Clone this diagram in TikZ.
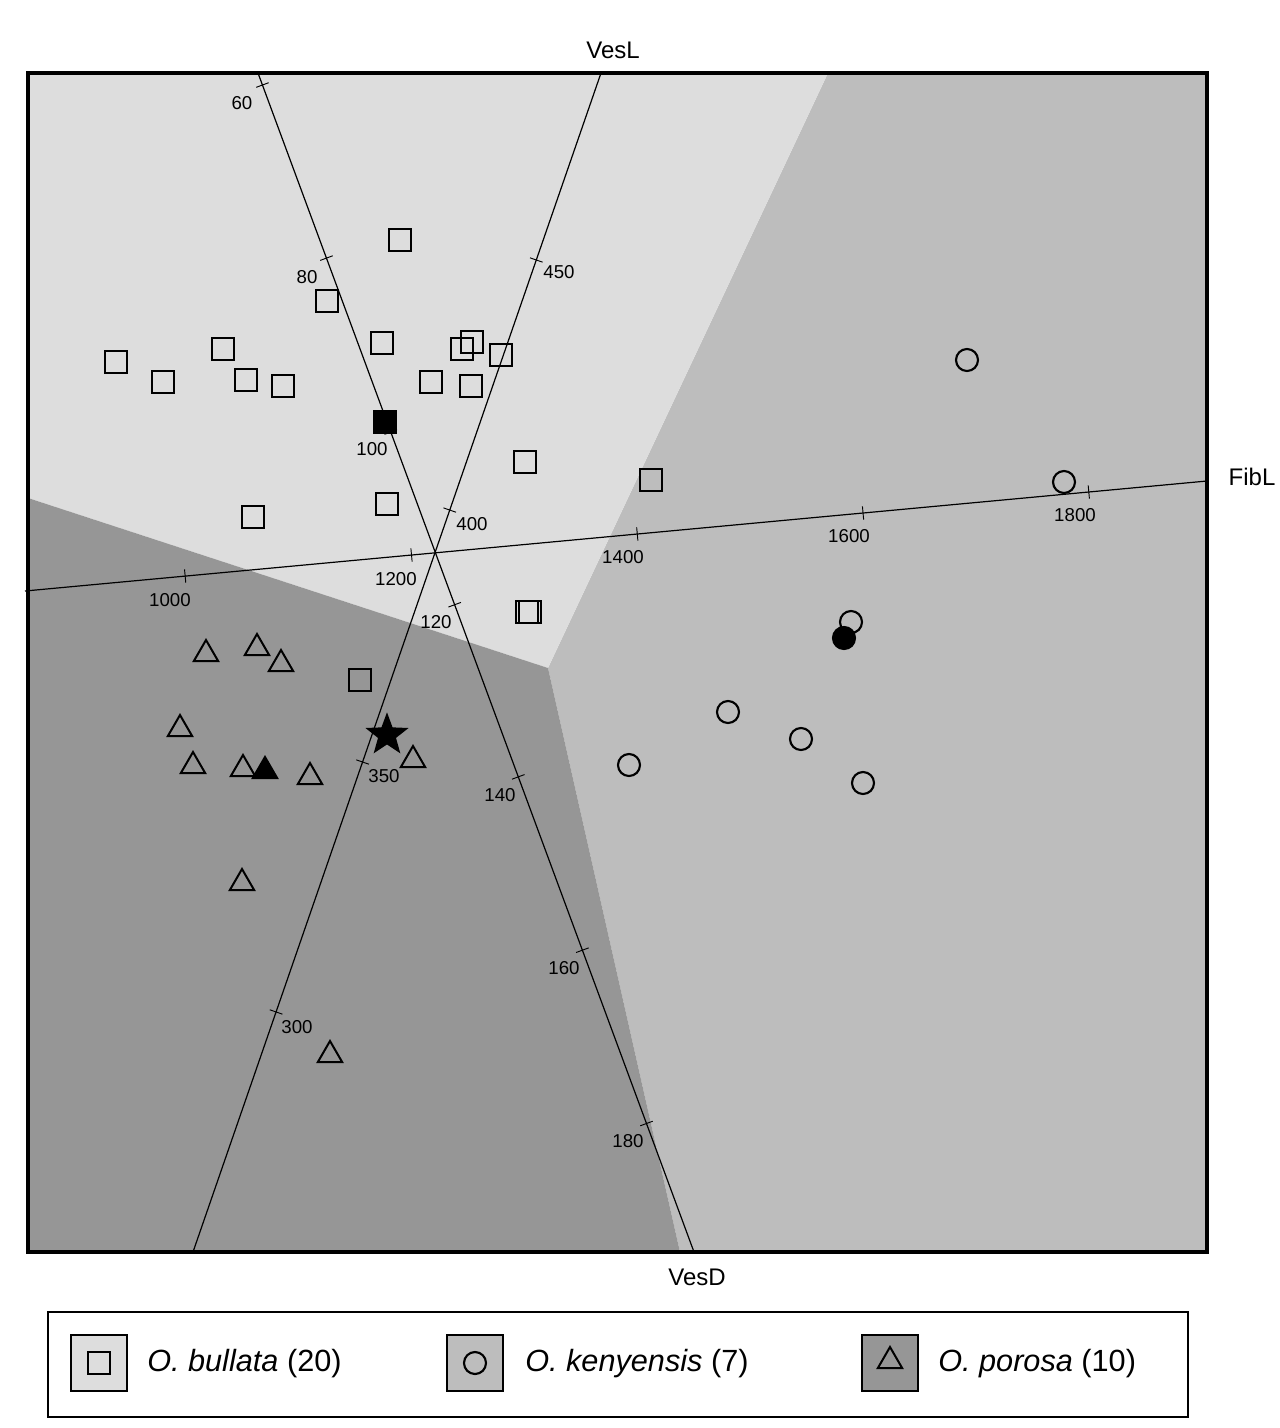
\documentclass[tikz,border=0pt]{standalone}
\usepackage{fontspec}
\setmainfont{Liberation Sans}
\usetikzlibrary{shapes.geometric}
\begin{document}
\begin{tikzpicture}[x=0.75pt,y=-0.75pt,
  sq/.style={draw,line width=1.6pt,minimum size=16pt,inner sep=0pt,fill=none},
  ci/.style={draw,circle,line width=1.6pt,minimum size=16.5pt,inner sep=0pt},
  tr/.style={draw,regular polygon,regular polygon sides=3,line width=1.5pt,minimum size=21pt,inner sep=0pt},
  tk/.style={sloped,draw,minimum width=0pt,minimum height=10pt,inner sep=0pt,line width=0.7pt},
  tl/.style={font=\fontsize{14}{14}\selectfont,inner sep=0pt},
  al/.style={font=\fontsize{18}{18}\selectfont,inner sep=0pt},
  lg/.style={font=\fontsize{23}{23}\selectfont,anchor=west,inner sep=0pt}]
\useasboundingbox (0,0) rectangle (1280,1428);
\fill[white] (0,0) rectangle (1280,1428);
% regions
\fill[gray!75!white,fill={rgb,255:red,189;green,189;blue,189}] (828,73) -- (1207,73) -- (1207,1252) -- (680,1252) -- (548,668) -- cycle;
\fill[fill={rgb,255:red,221;green,221;blue,221}] (28,73) -- (828,73) -- (548,668) -- (28,498) -- cycle;
\fill[fill={rgb,255:red,150;green,150;blue,150}] (28,498) -- (548,668) -- (680,1252) -- (28,1252) -- cycle;
\draw[line width=2.4pt] (28,73) rectangle (1207,1252);
% axes
\coordinate (d1) at (258,73); \coordinate (d2) at (694,1252);
\coordinate (l1) at (601,73); \coordinate (l2) at (193,1252);
\coordinate (f1) at (25,591); \coordinate (f2) at (1207,481);
\draw[line width=0.9pt] (d1) -- (d2)
  node[tk,pos=.0102]{} node[tk,pos=.157]{} node[tk,pos=.3045]{} node[tk,pos=.451]{}
  node[tk,pos=.597]{} node[tk,pos=.744]{} node[tk,pos=.891]{};
\draw[line width=0.9pt] (l1) -- (l2)
  node[tk,pos=.1586]{} node[tk,pos=.3707]{} node[tk,pos=.5844]{} node[tk,pos=.7964]{};
\draw[line width=0.9pt] (f1) -- (f2)
  node[tk,pos=.1355]{} node[tk,pos=.327]{} node[tk,pos=.518]{} node[tk,pos=.709]{} node[tk,pos=.9]{};
% tick labels
\node[tl] (t60) at (242,103) {60};
\node[tl] (t80) at (307,277) {80};
\node[tl] (t100) at (372,449) {100};
\node[tl] (t120) at (436,622) {120};
\node[tl] (t140) at (500,795) {140};
\node[tl] (t160) at (564,968) {160};
\node[tl] (t180) at (628,1141) {180};
\node[tl] (t450) at (559,272) {450};
\node[tl] (t400) at (472,524) {400};
\node[tl] (t350) at (384,776) {350};
\node[tl] (t300) at (297,1027) {300};
\node[tl] (t1000) at (170,600) {1000};
\node[tl] (t1200) at (396,579) {1200};
\node[tl] (t1400) at (623,557) {1400};
\node[tl] (t1600) at (849,536) {1600};
\node[tl] (t1800) at (1075,515) {1800};
\node[al] (vl) at (613,50) {VesL};
\node[al] (fl) at (1252,477) {FibL};
\node[al] (vd) at (697,1277) {VesD};
% squares
\foreach \p [count=\i] in {(400,240),(327,301),(116,362),(223,349),(163,382),(246,380),(283,386),(382,343),(462,349),(472,342),(501,355),(431,382),(471,386),(525,462),(651,480),(387,504),(253,517),(527,612),(530,612),(360,680)}
  \node[sq] (s\i) at \p {};
\node[sq,fill=black] (sm) at (385,422) {};
% circles
\foreach \p [count=\i] in {(967,360),(1064,482),(851,622),(728,712),(801,739),(629,765),(863,783)}
  \node[ci] (c\i) at \p {};
\node[ci,fill=black] (cm) at (844,638) {};
% triangles
\foreach \p [count=\i] in {(206,654),(257,648),(281,664),(180,729),(193,766),(243,769),(310,777),(413,760),(242,883),(330,1055)}
  \node[tr] (r\i) at \p {};
\node[tr,fill=black] (rm) at (265,771) {};
\node[star,star points=5,star point ratio=2.4,fill=black,minimum size=34pt,inner sep=0pt] (st) at (387,735) {};
% legend
\draw[line width=1pt] (48,1312) rectangle (1188,1417);
\node[draw,line width=1pt,fill={rgb,255:red,221;green,221;blue,221},minimum size=42pt,inner sep=0pt] (b1) at (99,1363) {};
\node[sq] (b1s) at (b1) {};
\node[lg] (x1) at (147,1364) {\textit{O. bullata} (20)};
\node[draw,line width=1pt,fill={rgb,255:red,189;green,189;blue,189},minimum size=42pt,inner sep=0pt] (b2) at (475,1363) {};
\node[ci] (b2c) at (b2) {};
\node[lg] (x2) at (525,1364) {\textit{O. kenyensis} (7)};
\node[draw,line width=1pt,fill={rgb,255:red,150;green,150;blue,150},minimum size=42pt,inner sep=0pt] (b3) at (890,1363) {};
\node[tr] (b3t) at (890,1361) {};
\node[lg] (x3) at (938,1364) {\textit{O. porosa} (10)};
\end{tikzpicture}
\end{document}
